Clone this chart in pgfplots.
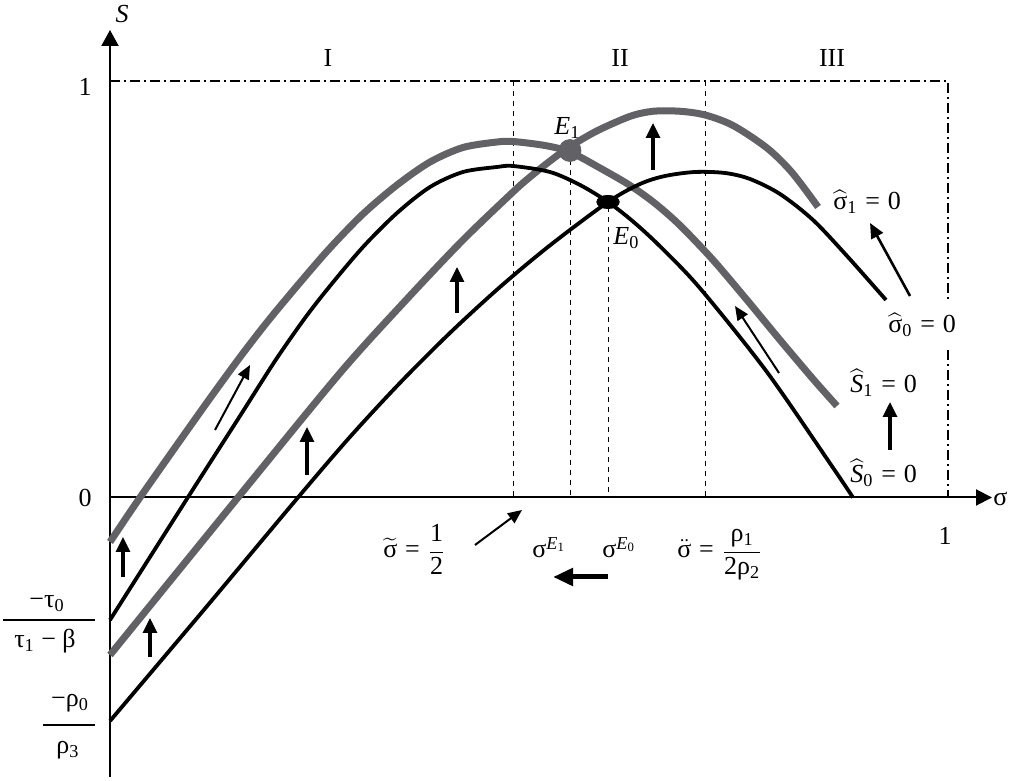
\documentclass[border=0pt]{standalone}
\usepackage{amsmath}
\usepackage{fontspec}
\setmainfont{Liberation Serif}
\usepackage{pgfplots}
\pgfplotsset{compat=1.18}
\usetikzlibrary{arrows.meta}
\definecolor{cg}{RGB}{98,98,102}
\newcommand{\eq}{\hspace{0.3em}=\hspace{0.3em}}
\begin{document}
\begin{tikzpicture}[font=\fontsize{13}{15}\selectfont]
\path[use as bounding box] (0,0) rectangle (510pt,390pt);
% reference lines (pixel frame)
\begin{scope}[shift={(0,390pt)}, x=0.5pt, y=-0.5pt]
\draw[line width=0.8pt, dash pattern=on 5pt off 2pt on 1pt off 2pt] (110,81) -- (948,81) -- (948,300);
\draw[line width=0.8pt, dash pattern=on 5pt off 2pt on 1pt off 2pt] (948,350) -- (948,497.5);
\draw[line width=0.5pt, dash pattern=on 2.5pt off 2.5pt] (513,81) -- (513,497.5);
\draw[line width=0.5pt, dash pattern=on 2.5pt off 2.5pt] (705,81) -- (705,497.5);
\draw[line width=0.5pt, dash pattern=on 2.5pt off 2.5pt] (570,160) -- (570,497.5);
\draw[line width=0.5pt, dash pattern=on 2.5pt off 2.5pt] (608,207) -- (608,497.5);
% axes
\draw[line width=1pt, -{Triangle[length=8pt,width=8.5pt]}] (110,777) -- (110,30);
\draw[line width=1pt, -{Triangle[length=8pt,width=8pt]}] (110,497.5) -- (992,497.5);
\end{scope}
\begin{axis}[anchor=origin, at={(55pt,141.25pt)}, x=419pt, y=208.25pt,
  xmin=0, xmax=1.05, ymin=-0.67, ymax=1.12, hide axis, clip=false]
% S1 hat = 0 (upper gray)
\addplot[cg, line width=3.5pt, smooth] coordinates {
(0,-0.1068) (0.0358,0) (0.1074,0.2046) (0.1516,0.3273) (0.1874,0.4209) (0.2267,0.5160)
(0.2625,0.5990) (0.3019,0.6807) (0.3425,0.7503) (0.3819,0.8055) (0.4212,0.8403)
(0.4618,0.8535) (0.4809,0.8547) (0.5191,0.8451) (0.5489,0.8295) (0.5847,0.7911)
(0.6205,0.7493) (0.6504,0.7061) (0.6802,0.6533) (0.7196,0.5702) (0.7601,0.4742)
(0.7995,0.3782) (0.8389,0.2845) (0.8675,0.2197)};
% sigma1 hat = 0 (lower gray)
\addplot[cg, line width=3.5pt, smooth] coordinates {
(0,-0.3782) (0.1527,0) (0.2745,0.2989) (0.3544,0.4766) (0.4212,0.6182) (0.4809,0.7335)
(0.5012,0.7695) (0.5251,0.8079) (0.5489,0.8425) (0.5811,0.8802) (0.6205,0.9150)
(0.6480,0.9273) (0.6802,0.9273) (0.7100,0.9184) (0.7434,0.8932) (0.7840,0.8391)
(0.8138,0.7803) (0.8449,0.6975)};
% S0 hat = 0 (upper black)
\addplot[black, line width=1.9pt, smooth] coordinates {
(0,-0.2941) (0.0955,0.0084) (0.1551,0.1957) (0.1969,0.3277) (0.2327,0.4310) (0.2625,0.5078)
(0.3019,0.6014) (0.3425,0.6831) (0.3819,0.7455) (0.4212,0.7815) (0.4618,0.7935)
(0.4809,0.7959) (0.5251,0.7815) (0.5609,0.7503) (0.5943,0.7095) (0.6241,0.6627)
(0.6563,0.6031) (0.7041,0.5023) (0.7840,0.3011) (0.8628,0.0713) (0.8866,0)};
% sigma0 hat = 0 (lower black)
\addplot[black, line width=1.9pt, smooth] coordinates {
(0,-0.5366) (0.1122,-0.2694) (0.2243,0) (0.2864,0.1455) (0.3461,0.2753) (0.4057,0.3952)
(0.4654,0.5054) (0.5251,0.6055) (0.5943,0.7095) (0.6325,0.7527) (0.6623,0.7719)
(0.6981,0.7815) (0.7339,0.7791) (0.7637,0.7647) (0.7995,0.7287) (0.8389,0.6663)
(0.8795,0.5798) (0.9260,0.4742)};
% equilibria
\addplot[only marks, mark=*, mark size=5.5pt, color=cg] coordinates {(0.5489,0.833)};
\addplot[only marks, mark=*, mark size=3.3pt, color=black, mark options={xscale=1.7}] coordinates {(0.5943,0.7095)};
\end{axis}
% annotations (pixel frame)
\begin{scope}[shift={(0,390pt)}, x=0.5pt, y=-0.5pt]
\tikzset{va/.style={line width=1.6pt, -{Triangle[length=7.5pt,width=7pt]}},
         da/.style={line width=1pt, -{Triangle[length=7pt,width=6pt]}}}
\draw[va] (123,577) -- (123,537);
\draw[va] (150,657) -- (150,618);
\draw[va] (307,475) -- (307,427);
\draw[va] (457,313) -- (457,267);
\draw[va] (653,170) -- (653,123);
\draw[va] (890,450) -- (890,402);
\draw[da] (215,430) -- (250,365);
\draw[da] (779,373) -- (735,306);
\draw[line width=1.3pt, -{Triangle[length=7.5pt,width=6.5pt]}] (910,296) -- (870,223);
\draw[da] (475,545) -- (522,510);
\draw[line width=2.5pt, -{Triangle[length=10pt,width=8.5pt]}] (608,577) -- (553,577);
% axis labels
\node[anchor=base, inner sep=0] at (122,23) {\itshape S};
\node[anchor=base west, inner sep=0] at (993,506) {σ};
\node[anchor=base east, inner sep=0] at (92,507) {0};
\node[anchor=base east, inner sep=0] at (92,96) {1};
\node[anchor=base, inner sep=0] at (945,545) {1};
% regions
\node[anchor=base, inner sep=0] at (328,67) {I};
\node[anchor=base, inner sep=0] at (620,67) {II};
\node[anchor=base, inner sep=0] at (832,67) {III};
% equilibrium labels
\node[anchor=base west, inner sep=0] at (554,135) {{\itshape E}\textsubscript{1}};
\node[anchor=base west, inner sep=0] at (613,245) {{\itshape E}\textsubscript{0}};
% curve labels
\node[anchor=base west, inner sep=0] at (833,210) {$\widehat{\mbox{σ}}$\textsubscript{1}\eq 0};
\node[anchor=base west, inner sep=0] at (888,333) {$\widehat{\mbox{σ}}$\textsubscript{0}\eq 0};
\node[anchor=base west, inner sep=0] at (850,393) {$\widehat{\mbox{\itshape S}}$\textsubscript{1}\eq 0};
\node[anchor=base west, inner sep=0] at (850,483) {$\widehat{\mbox{\itshape S}}$\textsubscript{0}\eq 0};
% bottom labels
\node[anchor=base west, inner sep=0] at (383,558) {$\widetilde{\mbox{σ}}$\eq$\dfrac{\mbox{1}}{\mbox{2}}$};
\node[anchor=base west, inner sep=0] at (532,558) {σ\textsuperscript{{\itshape E}\textsubscript{1}}};
\node[anchor=base west, inner sep=0] at (602,558) {σ\textsuperscript{{\itshape E}\textsubscript{0}}};
\node[anchor=base west, inner sep=0] at (677,558) {$\ddot{\mbox{σ}}$\eq$\dfrac{\mbox{ρ\textsubscript{1}}}{\mbox{2ρ\textsubscript{2}}}$};
% left fractions
\node[anchor=base, inner sep=0] at (47,608) {−τ\textsubscript{0}};
\draw[line width=0.7pt] (3,620) -- (95,620);
\node[anchor=base, inner sep=0] at (45,648) {τ\textsubscript{1} − β};
\node[anchor=base, inner sep=0] at (70,707) {−ρ\textsubscript{0}};
\draw[line width=0.7pt] (43,725) -- (95,725);
\node[anchor=base, inner sep=0] at (68,754) {ρ\textsubscript{3}};
\end{scope}
\end{tikzpicture}
\end{document}
